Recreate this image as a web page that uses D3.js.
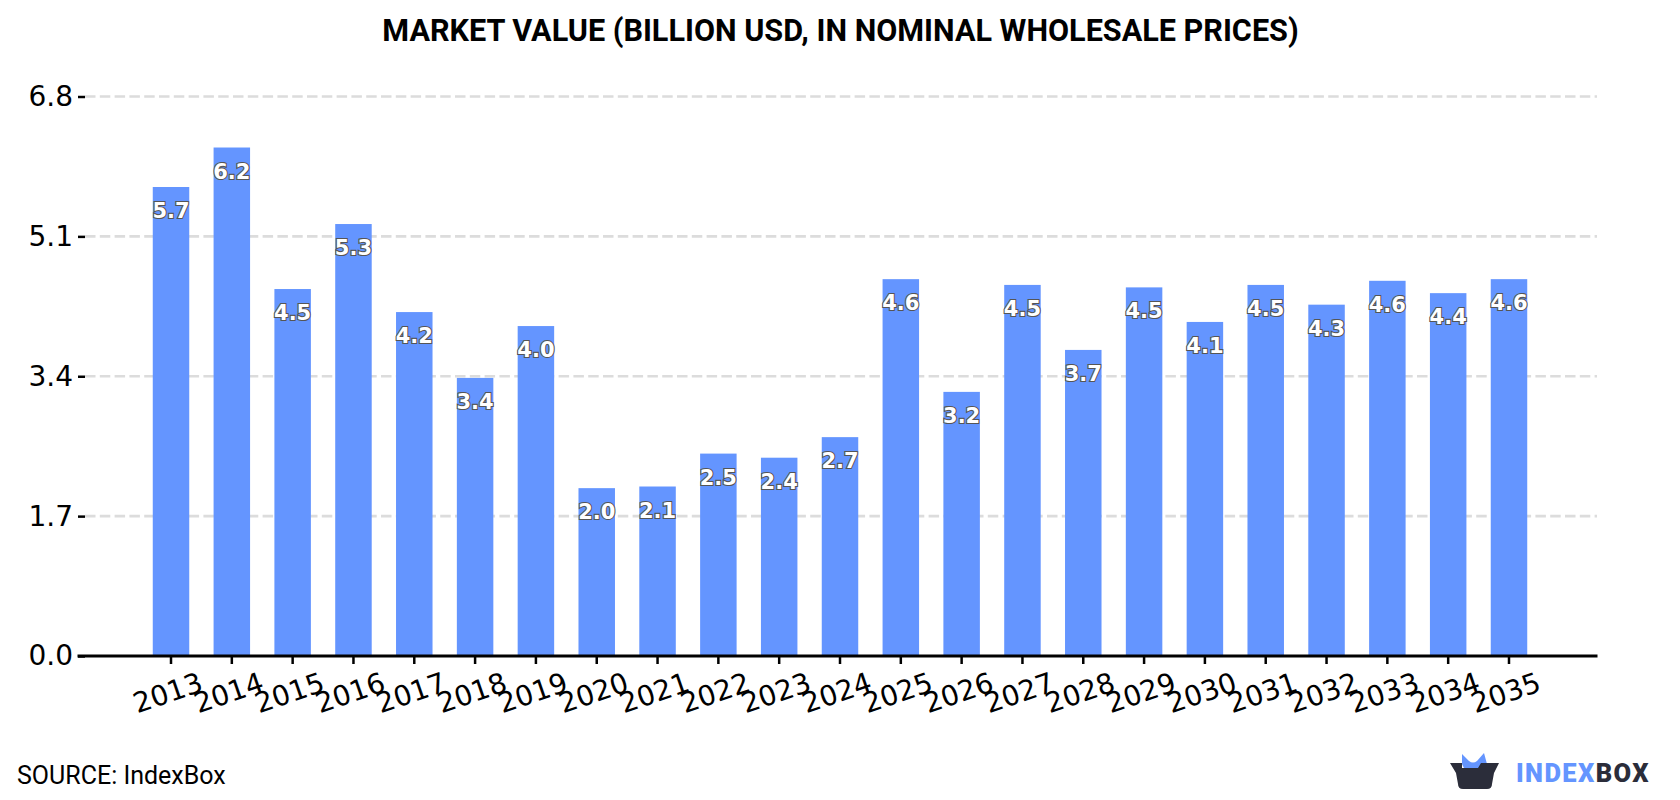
<!DOCTYPE html>
<html>
<head>
<meta charset="utf-8">
<script src="https://cdn.jsdelivr.net/npm/d3@7/dist/d3.min.js"></script>
<style>
  html, body { margin: 0; padding: 0; background: #fff; }
  svg { display: block; }
  .axis path { display: none; }
  .axis line { stroke: #000; stroke-width: 2.5; }
  .axis text { font-family: "DejaVu Sans"; font-size: 28px; fill: #000; }
</style>
</head>
<body>
<svg id="chart" width="1680" height="800"></svg>
<script>
// Market value, billion USD
const years = ["2013","2014","2015","2016","2017","2018","2019","2020","2021","2022","2023","2024",
               "2025","2026","2027","2028","2029","2030","2031","2032","2033","2034","2035"];
const marketValue = [5.70,6.18,4.46,5.25,4.18,3.38,4.01,2.04,2.06,2.46,2.41,2.66,
                     4.58,3.21,4.51,3.72,4.48,4.06,4.51,4.27,4.56,4.41,4.58];
const yTicks = [0, 1.7, 3.4, 5.1, 6.8];

const titleText = "MARKET VALUE (BILLION USD, IN NOMINAL WHOLESALE PRICES)";
const sourceText = "SOURCE: IndexBox";

const svg = d3.select("#chart");
const plot = { left: 85, right: 1597, top: 96.5, bottom: 656 };

const x = d3.scaleBand()
  .domain(years)
  .range([140.6, 1539.4])
  .paddingInner(0.4)
  .paddingOuter(0.2);

const y = d3.scaleLinear().domain([0, 6.8]).range([plot.bottom, plot.top]);

// Title
svg.append("text")
  .attr("x", 840.5).attr("y", 41)
  .attr("text-anchor", "middle")
  .style("font-family", "Roboto").style("font-weight", 700).style("font-size", "30.6px")
  .text(titleText);

// Dashed grid lines
svg.append("g").selectAll("line")
  .data(yTicks.filter(d => d > 0))
  .join("line")
  .attr("x1", plot.left).attr("x2", plot.right)
  .attr("y1", d => y(d)).attr("y2", d => y(d))
  .attr("stroke", "#dcdcdc").attr("stroke-width", 2.6)
  .attr("stroke-dasharray", "10.5 4.3");

// Bars
svg.append("g").selectAll("rect")
  .data(marketValue)
  .join("rect")
  .attr("x", (d, i) => x(years[i]))
  .attr("width", x.bandwidth())
  .attr("y", d => y(d))
  .attr("height", d => y(0) - y(d))
  .attr("fill", "#6495ff");

// Value axis
const yAxis = svg.append("g")
  .attr("class", "axis")
  .attr("transform", `translate(${plot.left},0)`)
  .call(d3.axisLeft(y).tickValues(yTicks).tickFormat(d3.format(".1f")).tickSize(7).tickPadding(5));

// Year axis with slanted labels
const xAxis = svg.append("g")
  .attr("class", "axis")
  .attr("transform", `translate(0,${plot.bottom})`)
  .call(d3.axisBottom(x).tickSize(8).tickPadding(0));
xAxis.selectAll("text")
  .attr("text-anchor", "middle")
  .attr("dy", null)
  .attr("y", 0)
  .attr("transform", "translate(0,46) rotate(-19)");

// Baseline
svg.append("line")
  .attr("x1", 77.5).attr("x2", plot.right + 0.5)
  .attr("y1", plot.bottom).attr("y2", plot.bottom)
  .attr("stroke", "#000").attr("stroke-width", 3);

// Value labels inside the bars
svg.append("g").selectAll("text")
  .data(marketValue)
  .join("text")
  .attr("x", (d, i) => x(years[i]) + x.bandwidth() / 2)
  .attr("y", d => y(d) + 31)
  .attr("text-anchor", "middle")
  .style("font-family", "DejaVu Sans").style("font-weight", 700).style("font-size", "21px")
  .style("paint-order", "stroke")
  .attr("fill", "#fff").attr("stroke", "#555").attr("stroke-width", 2.2)
  .text(d => d.toFixed(1));

// Source note
svg.append("text")
  .attr("x", 17).attr("y", 784)
  .style("font-family", "Roboto").style("font-size", "25px")
  .text(sourceText);

// Brand mark
const logo = svg.append("g");
logo.append("path")
  .attr("d", "M1462 764 L1462 754 L1469 761 Q1473 764 1477 761 L1484 753 L1487 764 L1480 776 L1468 776 Z")
  .attr("fill", "#6495ff");
logo.append("path")
  .attr("d", "M1450 763 L1462 763 L1462 768 L1478 768 L1481 763 L1499 763 L1494 773 L1492 784 Q1492 789 1487 789 L1463 789 Q1458 789 1458 784 L1456 773 Z")
  .attr("fill", "#2b2d3a");
const brand = svg.append("text")
  .attr("x", 1516).attr("y", 782)
  .style("font-family", "Roboto").style("font-weight", 900).style("font-size", "25.5px")
  .style("letter-spacing", "1.4px");
brand.append("tspan").attr("fill", "#6495ff").text("INDEX");
brand.append("tspan").attr("fill", "#2b2d3a").text("BOX");
</script>
</body>
</html>
